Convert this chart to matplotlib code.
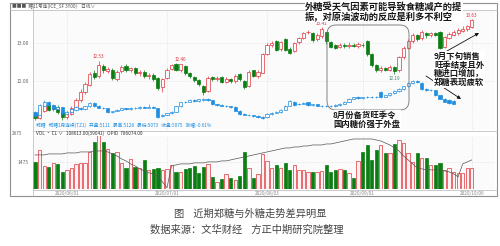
import numpy as np
import pandas as pd
import matplotlib
matplotlib.use('Agg')
import matplotlib.pyplot as plt
from matplotlib.patches import FancyBboxPatch, Rectangle
from matplotlib.lines import Line2D
from matplotlib.transforms import IdentityTransform

plt.rcParams['font.family'] = ['Noto Sans CJK SC', 'DejaVu Sans']

# ICE sugar No.11 daily bars (cents/lb), 2020-05-20 .. 2020-10-06
ice_open = [11.12, 11.02, 11.22, 11.36, 11.25, 11.32, 11.18, 11.05, 11.14, 11.30,
            11.50, 11.70, 11.90, 12.22, 12.12, 12.40, 12.26, 12.30, 12.05, 12.26,
            12.40, 12.30, 12.33, 12.20, 12.24, 12.12, 12.16, 12.08, 11.85, 12.08,
            12.32, 12.46, 12.28, 12.40, 12.20, 12.10, 12.02, 11.88, 11.74, 12.10,
            12.04, 12.10, 11.98, 12.05, 12.00, 12.18, 12.00, 11.88, 12.28, 12.12,
            12.22, 12.72, 12.95, 13.05, 12.85, 13.10, 12.85, 12.80, 13.02, 13.14,
            13.28, 13.26, 13.10, 13.18, 13.28, 13.02, 12.95, 12.90, 12.95, 12.92,
            12.95, 12.93, 12.96, 13.05, 12.72, 12.42, 12.30, 12.33, 12.30, 12.36,
            12.28, 12.62, 12.88, 13.05, 13.20, 13.12, 13.26, 13.20, 13.26, 13.30,
            12.90, 13.14, 13.22, 13.26, 13.32, 13.36, 13.42]
ice_close = [11.02, 11.25, 11.38, 11.24, 11.33, 11.18, 11.05, 11.15, 11.30, 11.50,
             11.72, 11.92, 12.18, 12.10, 12.42, 12.28, 12.32, 12.08, 12.25, 12.38,
             12.28, 12.33, 12.20, 12.24, 12.12, 12.16, 12.05, 11.82, 12.05, 12.30,
             12.42, 12.30, 12.44, 12.20, 12.14, 12.02, 11.92, 11.72, 12.08, 12.04,
             12.08, 11.98, 12.05, 12.00, 12.14, 12.04, 11.85, 12.25, 12.14, 12.25,
             12.70, 12.95, 13.00, 12.82, 13.02, 12.82, 12.75, 13.00, 13.12, 13.26,
             13.30, 13.08, 13.20, 13.38, 13.05, 12.90, 12.88, 12.95, 12.92, 12.96,
             12.93, 12.97, 12.94, 12.70, 12.42, 12.28, 12.35, 12.30, 12.38, 12.26,
             12.62, 12.88, 13.05, 13.22, 13.10, 13.30, 13.20, 13.26, 13.22, 12.88,
             13.15, 13.25, 13.28, 13.35, 13.38, 13.44, 13.60]
ice_high = [11.18, 11.30, 11.46, 11.40, 11.37, 11.36, 11.22, 11.20, 11.35, 11.55,
            11.78, 11.98, 12.24, 12.28, 12.53, 12.45, 12.38, 12.34, 12.30, 12.42,
            12.44, 12.38, 12.36, 12.30, 12.28, 12.22, 12.20, 12.10, 12.08, 12.34,
            12.46, 12.48, 12.46, 12.42, 12.24, 12.14, 12.05, 11.90, 12.12, 12.14,
            12.12, 12.12, 12.10, 12.08, 12.18, 12.20, 12.02, 12.28, 12.30, 12.28,
            12.74, 13.00, 13.06, 13.08, 13.06, 13.14, 12.90, 13.04, 13.16, 13.30,
            13.34, 13.30, 13.26, 13.41, 13.30, 13.06, 12.98, 12.99, 12.99, 13.02,
            12.99, 13.03, 13.00, 13.08, 12.75, 12.46, 12.40, 12.38, 12.42, 12.40,
            12.66, 12.92, 13.10, 13.26, 13.24, 13.34, 13.30, 13.30, 13.30, 13.32,
            13.19, 13.30, 13.34, 13.40, 13.44, 13.48, 13.63]
ice_low = [10.97, 11.00, 11.18, 11.20, 11.20, 11.12, 10.98, 11.00, 11.10, 11.26,
           11.46, 11.66, 11.86, 12.04, 12.08, 12.22, 12.20, 12.02, 12.00, 12.22,
           12.24, 12.24, 12.15, 12.14, 12.08, 12.06, 12.00, 11.76, 11.70, 12.04,
           12.28, 12.26, 12.24, 12.16, 12.08, 11.98, 11.86, 11.63, 11.70, 12.00,
           12.00, 11.94, 11.94, 11.96, 11.96, 12.00, 11.80, 11.84, 12.10, 12.08,
           12.20, 12.68, 12.90, 12.78, 12.80, 12.78, 12.70, 12.76, 12.98, 13.10,
           13.24, 13.04, 13.06, 13.14, 12.98, 12.86, 12.84, 12.86, 12.88, 12.88,
           12.89, 12.88, 12.90, 12.66, 12.38, 12.24, 12.24, 12.26, 12.26, 12.19,
           12.24, 12.58, 12.84, 13.00, 13.05, 13.08, 13.14, 13.16, 13.18, 12.84,
           12.86, 13.10, 13.18, 13.22, 13.28, 13.32, 13.40]

# CZCE sugar overlay (yuan/t), 2020-05-20 .. 2020-09-30
zce_open = [4960, 4920, 5050, 5110, 5060, 5000, 5030, 4930, 4960, 4990,
            5020, 5000, 5040, 5090, 5050, 5020, 5010, 4960, 4980, 4990,
            5010, 5000, 5020, 5010, 5030, 5020, 5030, 5010, 4900, 4920,
            4940, 4960, 5040, 5100, 5110, 5130, 5120, 5130, 5150, 5130,
            5070, 5060, 5050, 5040, 5030, 4980, 4930, 4920, 4910, 4900,
            4890, 4890, 4930, 4950, 4960, 4990, 5050, 5110, 5070, 5080,
            5100, 5060, 5070, 5050, 5040, 5050, 5040, 5060, 5080, 5110,
            5150, 5180, 5160, 5170, 5180, 5170, 5250, 5180, 5200, 5230,
            5260, 5290, 5330, 5370, 5400, 5380, 5290, 5280, 5270, 5200,
            5150, 5130, 5111]
zce_close = [4900, 5060, 5110, 5060, 5000, 5030, 4940, 4960, 5000, 5030,
             5000, 5040, 5090, 5040, 5020, 5010, 4960, 4970, 4990, 5010,
             5000, 5020, 5010, 5030, 5020, 5030, 5020, 4890, 4920, 4940,
             4960, 5040, 5100, 5110, 5130, 5120, 5140, 5150, 5130, 5070,
             5060, 5050, 5040, 5030, 4980, 4930, 4920, 4910, 4900, 4890,
             4880, 4930, 4950, 4960, 4990, 5050, 5120, 5060, 5080, 5090,
             5060, 5070, 5050, 5040, 5050, 5040, 5060, 5080, 5110, 5150,
             5170, 5160, 5170, 5180, 5170, 5180, 5170, 5200, 5230, 5260,
             5290, 5330, 5370, 5400, 5390, 5290, 5280, 5270, 5200, 5150,
             5110, 5090, 5075]
zce_high = [4975, 5075, 5130, 5120, 5070, 5045, 5035, 4975, 5010, 5040,
            5030, 5050, 5100, 5100, 5060, 5030, 5015, 4980, 5000, 5020,
            5020, 5030, 5030, 5040, 5045, 5070, 5040, 5020, 4935, 4950,
            4970, 5050, 5110, 5125, 5140, 5140, 5150, 5165, 5160, 5135,
            5080, 5070, 5060, 5050, 5040, 4990, 4945, 4930, 4920, 4910,
            4900, 4940, 4960, 4975, 5000, 5060, 5130, 5120, 5090, 5100,
            5110, 5080, 5080, 5060, 5060, 5060, 5070, 5090, 5120, 5160,
            5180, 5190, 5180, 5195, 5190, 5190, 5260, 5210, 5240, 5270,
            5300, 5340, 5385, 5420, 5415, 5390, 5300, 5295, 5280, 5210,
            5160, 5140, 5128]
zce_low = [4880, 4910, 5040, 5050, 4990, 4990, 4920, 4910, 4950, 4980,
           4990, 4990, 5030, 5030, 5010, 5000, 4950, 4950, 4970, 4985,
           4990, 4995, 5000, 5005, 5010, 5010, 5010, 4880, 4890, 4910,
           4930, 4955, 5030, 5090, 5100, 5110, 5110, 5125, 5120, 5060,
           5050, 5040, 5030, 5020, 4970, 4920, 4910, 4900, 4890, 4880,
           4860, 4880, 4920, 4945, 4950, 4985, 5040, 5050, 5060, 5070,
           5050, 5050, 5040, 5030, 5030, 5030, 5030, 5050, 5070, 5100,
           5140, 5150, 5150, 5160, 5160, 5160, 5160, 5170, 5190, 5220,
           5250, 5280, 5320, 5360, 5370, 5270, 5260, 5255, 5190, 5140,
           5100, 5080, 5073]

volume = [1474, 2129, 1256, 1201, 1420, 1365, 928, 1037, 1147, 1365,
          1420, 1420, 2020, 2566, 2948, 2566, 2184, 1966, 2020, 1420,
          1147, 1638, 1201, 1147, 1583, 1037, 1092, 1147, 1037, 1092,
          1310, 928, 928, 1092, 1147, 1256, 874, 1201, 1365, 655,
          382, 546, 819, 601, 491, 710, 2020, 1147, 601, 819,
          1911, 1529, 1147, 1310, 1147, 1420, 1037, 1310, 1037, 1037,
          928, 928, 928, 983, 1310, 928, 1037, 1092, 1037, 874,
          601, 1529, 2020, 2402, 1583, 2129, 2402, 1966, 1966, 2457,
          2675, 2512, 1966, 1474, 1966, 1693, 1693, 1310, 1310, 1420,
          1037, 1147, 928, 874, 874, 1147, 1147]

# open interest, thousand lots
open_int = [798.5, 798.5, 798.5, 801, 801, 801, 801, 803.5, 803.5, 803.5,
            806, 806, 806, 808.5, 808.5, 808.5, 806, 801, 796, 788.5,
            783.5, 776, 771, 763.5, 758.5, 753.5, 751, 743.5, 731, 716,
            771, 773.5, 776, 776, 776, 778.5, 778.5, 778.5, 781, 781,
            781, 783.5, 783.5, 786, 788.5, 791, 793.5, 796, 798.5, 801,
            803.5, 806, 808.5, 811, 813.5, 816, 816, 818.5, 818.5, 821,
            821, 823.5, 823.5, 823.5, 826, 826, 828.5, 831, 833.5, 836,
            838.5, 838.5, 838.5, 838.5, 838.5, 836, 833.5, 828.5, 823.5, 816,
            808.5, 796, 786, 776, 766, 763.5, 761, 761, 761, 761,
            758.5, 756, 751, 743.5, 776, 781, 786]

tick_dates = ['2020/06/01', '2020/07/01', '2020/08/03', '2020/09/01', '2020/10/06']
holidays = ['2020-05-25', '2020-07-03', '2020-09-07']

days = pd.bdate_range('2020-05-20', '2020-10-06').drop(pd.to_datetime(holidays))
x = np.arange(len(days))
xz = x[:len(zce_close)]
tick_pos = days.get_indexer(pd.to_datetime(tick_dates))

W, H = 500, 246
RED = '#e0333a'
GREEN = '#0b7d12'
BLUE = '#1f8ee0'
BG = '#fbfbfc'
GRID = '#c9ccd2'


def fx(px):
    return px / W


def fy(py):
    return 1 - py / H


def candles(ax, xs, o, c, h, l, up_col, dn_col, up_face, dn_face, width=0.7):
    o, c, h, l = (np.asarray(a, float) for a in (o, c, h, l))
    up = c >= o
    cols = np.where(up, up_col, dn_col)
    faces = np.where(up, up_face, dn_face)
    ax.vlines(xs, l, h, colors=cols, lw=0.5, zorder=2)
    span = ax.get_ylim()[1] - ax.get_ylim()[0]
    ax.bar(xs, np.maximum(np.abs(c - o), span * 0.002), bottom=np.minimum(o, c),
           width=width, color=faces, edgecolor=cols, lw=0.5, zorder=3)


fig = plt.figure(figsize=(W / 100, H / 100), dpi=100)
fig.patch.set_facecolor('white')

# price panel
ax = fig.add_axes([fx(33), fy(130), fx(495) - fx(33), fy(10) - fy(130)])
ax.set_facecolor(BG)
ax.set_xlim(-0.45, 101.1)
ax.set_ylim(10.71, 13.87)
ax.set_yticks([12, 13])
ax.set_yticklabels(['12.00', '13.00'])
ax.tick_params(axis='y', length=0, labelsize=3.6, labelcolor='#666666', pad=3)
ax.set_xticks([])
for s in ax.spines.values():
    s.set_visible(False)
for yv in [12, 13]:
    ax.axhline(yv, color=GRID, lw=0.4, ls=(0, (1, 2)), zorder=0)
for tp in tick_pos:
    ax.axvline(tp, color=GRID, lw=0.4, ls=(0, (1, 2)), zorder=0)

candles(ax, x, ice_open, ice_close, ice_high, ice_low, RED, GREEN, BG, GREEN)

axz = ax.twinx()
axz.set_ylim(4700, 6429)
axz.set_yticks([])
for s in axz.spines.values():
    s.set_visible(False)
candles(axz, xz, zce_open, zce_close, zce_high, zce_low, BLUE, BLUE, BG, BLUE)

# price labels on extremes
hi_lbl = [(14, ice_high[14]), (32, ice_high[30]), (63, ice_high[63]), (96, ice_high[96])]
for i, v in hi_lbl:
    ax.text(i, v + 0.04, f'{v:.2f}', color=RED, fontsize=3.4, ha='center', va='bottom', zorder=5)
ax.text(79, ice_low[79] - 0.06, f'{ice_low[79]:.2f}', color='#3a8a6a', fontsize=3.4,
        ha='center', va='top', zorder=5)

ax.text(0.2, 10.77, '郑糖   郑糖1月连续(TZ1)   开盘:5111   最高:5128   最低:5073   收盘:5075   涨幅:-0.61%',
        color=BLUE, fontsize=3.4, ha='left', va='bottom', zorder=5)

# volume panel
axv = fig.add_axes([fx(33), fy(189), fx(495) - fx(33), fy(136) - fy(189)])
axv.set_facecolor(BG)
axv.set_xlim(-0.45, 101.1)
axv.set_ylim(0, 2900)
axv.set_yticks([1475])
axv.set_yticklabels(['1475'])
axv.tick_params(axis='y', length=0, labelsize=3.6, labelcolor='#666666', pad=3)
axv.set_xticks(tick_pos)
axv.set_xticklabels(tick_dates)
axv.tick_params(axis='x', length=0, labelsize=3.4, labelcolor='#888888', pad=1.5)
for s in axv.spines.values():
    s.set_visible(False)
axv.axhline(1475, color=GRID, lw=0.4, ls=(0, (1, 2)), zorder=0)
for tp in tick_pos:
    axv.axvline(tp, color=GRID, lw=0.4, ls=(0, (1, 2)), zorder=0)
up = np.asarray(ice_close) >= np.asarray(ice_open)
axv.bar(x, volume, width=0.72, color=np.where(up, '#fff2f2', GREEN),
        edgecolor=np.where(up, RED, GREEN), lw=0.5, zorder=3)

axo = axv.twinx()
axo.set_ylim(713, 846)
axo.set_yticks([])
for s in axo.spines.values():
    s.set_visible(False)
axo.plot(x, open_int, color='#555555', lw=0.5, zorder=4)

# frame of the quote window
tr = IdentityTransform()
fig.add_artist(Rectangle((10, H - 196), 487, 193, fill=False, ec='#8f8f8f', lw=0.8, transform=tr))
for seg in [((33, 33), (3, 196)), ((10, 497), (10, 10)), ((33, 497), (131, 131)), ((33, 497), (190, 190))]:
    fig.add_artist(Line2D(seg[0], [H - v for v in seg[1]], color='#b5b5b5', lw=0.5, transform=tr))

fig.text(fx(12), fy(6.5), '■■■  糖11号连(ICE_SF 3Y00)    日线∨', fontsize=3.4, color='#555555', va='center')
fig.text(fx(12), fy(133.5), '2675', fontsize=3.4, color='#666666', va='center')
fig.text(fx(36), fy(133.5), 'VOL · CL ∨   108613.00(39041)   OPID  786074.00', fontsize=3.4,
         color='#333333', va='center')

# annotations
fig.add_artist(FancyBboxPatch((327, H - 110), 82, 85, boxstyle='round,pad=0,rounding_size=9',
                              fill=False, ec='#707070', lw=0.6, transform=tr))
bold = dict(fontweight='bold', color='#151515')
fig.text(fx(305), fy(2), '外糖受天气因素可能导致食糖减产的提\n振，对原油波动的反应是利多不利空',
         fontsize=6.7, va='top', ha='left', linespacing=0.95,
         bbox=dict(facecolor='white', edgecolor='none', pad=0.2), **bold)
fig.text(fx(333), fy(111), '8月份备货旺季令\n国内糖价强于外盘', fontsize=6.0, va='top', ha='left',
         linespacing=0.95, bbox=dict(facecolor='white', edgecolor='none', pad=0.5), **bold)
arrow = dict(arrowstyle='-|>', color='#111111', lw=0.6, mutation_scale=5, shrinkA=0, shrinkB=0)
ax.annotate('', xy=(fx(479), fy(33)), xytext=(fx(447), fy(51)), xycoords='figure fraction',
            textcoords='figure fraction', arrowprops=arrow, annotation_clip=False)
ax.annotate('', xy=(fx(461), fy(99)), xytext=(fx(426), fy(76)), xycoords='figure fraction',
            textcoords='figure fraction', arrowprops=arrow, annotation_clip=False)
fig.text(fx(434), fy(52), '9月下旬销售\n旺季结束且外\n糖进口增加，\n郑糖表现疲软', fontsize=6.0,
         va='top', ha='left', linespacing=0.95,
         bbox=dict(facecolor='white', edgecolor='none', pad=0.5), **bold)

# caption
fig.text(0.5, fy(214), '图    近期郑糖与外糖走势差异明显', fontsize=7.4, color='#444444',
         ha='center', va='center')
fig.text(0.494, fy(230), '数据来源：文华财经    方正中期研究院整理', fontsize=7.4, color='#444444',
         ha='center', va='center')

fig.savefig('out.png', dpi=100, facecolor='white')
